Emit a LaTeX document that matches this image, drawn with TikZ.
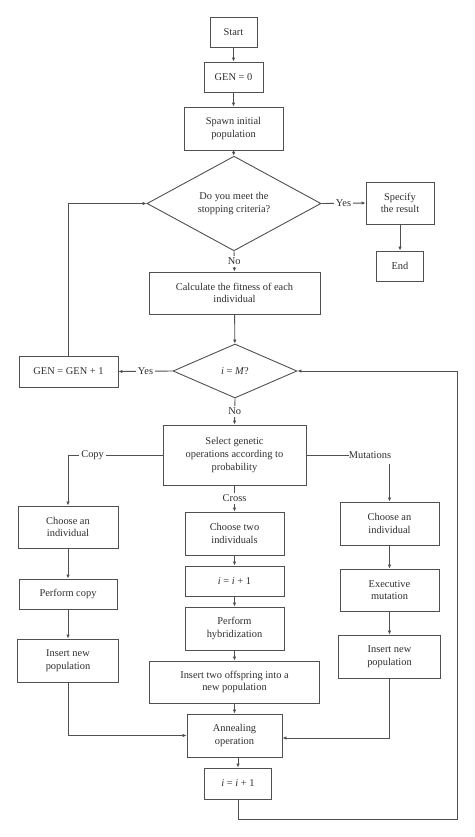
\documentclass[tikz,border=0pt]{standalone}
\usepackage{fontspec}
\setmainfont{Liberation Serif}
\usetikzlibrary{arrows.meta,shapes.geometric}
\definecolor{ln}{HTML}{505050}
\definecolor{tx}{HTML}{2e2e2e}
\tikzset{
  box/.style={draw=ln,line width=0.9pt,align=center,font=\fontsize{10.4}{12.7}\selectfont,text=tx,inner sep=1pt},
  dia/.style={draw=ln,line width=0.9pt,shape=diamond,align=center,font=\fontsize{10.4}{12.7}\selectfont,text=tx,inner sep=0pt},
  lbl/.style={fill=white,font=\fontsize{10.4}{12}\selectfont,text=tx,inner sep=2pt},
  conn/.style={draw=ln,line width=0.9pt,-{Latex[length=4pt,width=3.5pt]}},
  plain/.style={draw=ln,line width=0.9pt}
}
\begin{document}
\begin{tikzpicture}[x=1pt,y=-1pt]
\useasboundingbox (0,0) rectangle (474,837);
\node[box,minimum width=47pt,minimum height=30pt] (start) at (233.5,32) {Start};
\node[box,minimum width=59pt,minimum height=30pt] (gen0) at (233.5,77) {GEN = 0};
\node[box,minimum width=99pt,minimum height=43pt] (spawn) at (233.5,128.5) {Spawn initial\\population};
\node[dia,minimum width=174pt,minimum height=75pt] (d1) at (234,203.5) {Do you meet the\\stopping criteria?};
\node[box,minimum width=68pt,minimum height=42pt] (spec) at (400,203) {Specify\\the result};
\node[box,minimum width=47pt,minimum height=30pt] (end) at (400,266) {End};
\node[box,minimum width=171pt,minimum height=42pt] (calc) at (234.5,293) {Calculate the fitness of each\\individual};
\node[dia,minimum width=124pt,minimum height=54pt] (d2) at (235,371) {\textit{i} = \textit{M}?};
\node[box,minimum width=99pt,minimum height=31pt] (genp) at (68.5,371.5) {GEN = GEN + 1};
\node[box,minimum width=143pt,minimum height=60pt] (sel) at (234.5,455) {Select genetic\\operations according to\\probability};
\node[box,minimum width=100pt,minimum height=42pt] (cp1) at (68,527) {Choose an\\individual};
\node[box,minimum width=99pt,minimum height=43pt] (cr1) at (234.5,533.5) {Choose two\\individuals};
\node[box,minimum width=99pt,minimum height=43pt] (mu1) at (389.5,523.5) {Choose an\\individual};
\node[box,minimum width=99pt,minimum height=30pt] (cr2) at (234.5,581) {\textit{i} = \textit{i} + 1};
\node[box,minimum width=98pt,minimum height=30pt] (cp2) at (68,594) {Perform copy};
\node[box,minimum width=99pt,minimum height=42pt] (mu2) at (389.5,590) {Executive\\mutation};
\node[box,minimum width=99pt,minimum height=43pt] (cr3) at (234.5,628.5) {Perform\\hybridization};
\node[box,minimum width=101pt,minimum height=43pt] (cp3) at (68,660.5) {Insert new\\population};
\node[box,minimum width=170pt,minimum height=42pt] (cr4) at (234.5,682) {Insert two offspring into a\\new population};
\node[box,minimum width=102pt,minimum height=43pt] (mu3) at (389.5,656.5) {Insert new\\population};
\node[box,minimum width=95pt,minimum height=43pt] (ann) at (234.5,735.5) {Annealing\\operation};
\node[box,minimum width=67pt,minimum height=31pt] (inc) at (238,783.5) {\textit{i} = \textit{i} + 1};
\coordinate (rb) at (457,819);

\draw[conn] (start) -- (gen0);
\draw[conn] (gen0) -- (spawn);
\draw[conn] (spawn) -- (d1);
\draw[conn] (d1.south) -- node[lbl] {No} (calc.north);
\draw[conn] (d1.east) -- node[lbl] {Yes} (spec.west);
\draw[conn] (spec) -- (end);
\draw[conn] (calc) -- (d2);
\draw[conn] (d2.west) -- node[lbl] {Yes} (genp.east);
\draw[conn] (genp.north) |- (d1.west);
\draw[conn] (d2.south) -- node[lbl] {No} (sel.north);
\draw[conn] (sel.west) -| node[lbl,pos=0.37] {Copy} (cp1.north);
\draw[conn] (sel.south) -- node[lbl] {Cross} (cr1.north);
\draw[conn] (sel.east) -| node[lbl,pos=0.5,anchor=east,inner xsep=0pt,inner ysep=6pt,xshift=2pt] {Mutations} (mu1.north);
\draw[conn] (cp1) -- (cp2);
\draw[conn] (cp2) -- (cp3);
\draw[conn] (cp3.south) |- (ann.west);
\draw[conn] (cr1) -- (cr2);
\draw[conn] (cr2) -- (cr3);
\draw[conn] (cr3) -- (cr4);
\draw[conn] (cr4) -- (ann);
\draw[conn] (mu1) -- (mu2);
\draw[conn] (mu2) -- (mu3);
\draw[conn] (mu3.south) |- ([yshift=-2.5pt]ann.east);
\draw[conn] (inc.north |- ann.south) -- (inc.north);
\draw[conn] (inc.south) |- (rb) |- (d2.east);
\end{tikzpicture}
\end{document}
